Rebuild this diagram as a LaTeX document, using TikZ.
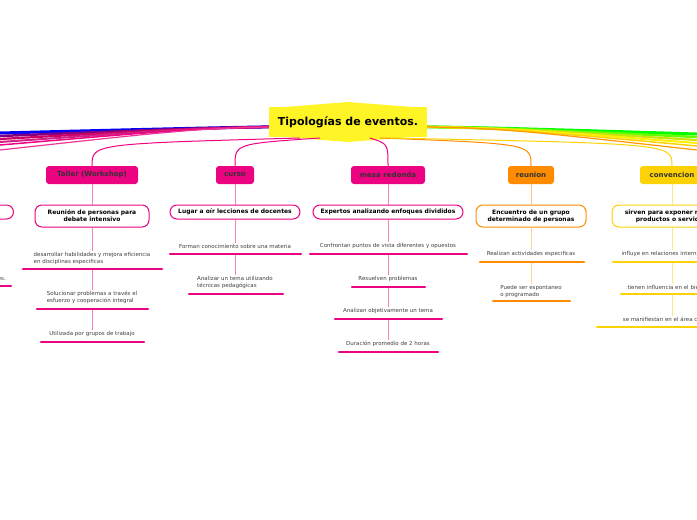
\documentclass[tikz,border=0pt]{standalone}
\usepackage{fontspec}
\setmainfont{DejaVu Sans}
\usetikzlibrary{calc}
\begin{document}
\begin{tikzpicture}[x=1pt,y=-1pt,
  every node/.style={font=\fontsize{5.5}{7}\selectfont, text=black!75},
  lone/.style={rounded corners=3pt, minimum height=18pt, inner sep=1pt, font=\fontsize{7}{8}\selectfont\bfseries, text=black!80},
  ltwo/.style={rounded corners=7pt, draw, line width=1pt, fill=white, inner sep=2pt, align=center, font=\fontsize{6}{7}\selectfont\bfseries, text=black},
  lthree/.style={align=left, inner sep=1pt},
  ul/.style={line width=2.5pt, line cap=round},
  vc/.style={line width=0.6pt}]
\useasboundingbox (0,0) rectangle (697,520);
\clip (0,0) rectangle (697,520);
\colorlet{mag}{magenta!90!red}
\colorlet{org}{orange!90!yellow}
\colorlet{yor}{yellow!70!orange}
% fan lines left
\foreach \c/\y/\w in {blue/133/3, violet/136/2.5, purple!80!magenta/139/2.2, magenta!70!violet/142/2, mag/145/1.5, mag!80!white/150/1.2}
  \draw[\c, line width=\w pt] (320,126) .. controls (200,128) .. (0,\y);
\foreach \c/\y/\w in {green/134/3, green!60!yellow/137/2.5, yellow!80!green/140/2.2, yellow/143/2, yor/146/1.5, orange!80!yellow/150/1.2}
  \draw[\c, line width=\w pt] (380,126) .. controls (500,128) .. (697,\y);
% title
\node[fill=yellow!85!white, draw=none, minimum width=158pt, minimum height=30pt, font=\fontsize{11}{12}\selectfont\bfseries, text=black] (t) at (348,122) {Tipologías de eventos.};
\fill[yellow!85!white] (272,108) -- (348,102) -- (425,108) -- cycle;
\fill[yellow!85!white] (272,136) -- (348,142) -- (425,136) -- cycle;
% level 1
\node[lone, fill=mag, minimum width=92pt] (a) at (92,175) {Taller (Workshop)};
\node[lone, fill=mag, minimum width=38pt] (b) at (235,175) {curso};
\node[lone, fill=mag, minimum width=74pt] (c) at (388,175) {mesa redonda};
\node[lone, fill=org, minimum width=46pt] (d) at (531,175) {reunion};
\node[lone, fill=yor, minimum width=64pt] (e) at (672,175) {convencion};
\foreach \n/\c/\sx in {a/mag/300, b/mag/320, c/mag/370, d/org/380, e/yor/390}
  \draw[\c, line width=1pt] (\sx,138) .. controls ($(\n.north)+(0,-22)$) .. (\n.north);
% level 2
\node[ltwo, draw=mag, minimum width=114pt, minimum height=22pt] (a2) at (92,216) {Reunión de personas para\\debate intensivo};
\node[ltwo, draw=mag, minimum width=130pt, minimum height=14pt] (b2) at (235,212) {Lugar a oír lecciones de docentes};
\node[ltwo, draw=mag, minimum width=150pt, minimum height=14pt] (c2) at (388,212) {Expertos analizando enfoques divididos};
\node[ltwo, draw=org, minimum width=110pt, minimum height=22pt] (d2) at (531,216) {Encuentro de un grupo\\determinado de personas};
\node[ltwo, draw=yor, minimum width=120pt, minimum height=22pt] (e2) at (672,216) {sirven para exponer nuevos\\productos o servicios};
\node[ltwo, draw=mag, minimum width=80pt, minimum height=14pt, anchor=east] (f2) at (14,212) {integral};
\foreach \n/\c in {a/mag, b/mag, c/mag, d/org, e/yor}
  \draw[\c!50, vc] (\n) -- (\n2);
% level 3 taller
\node[lthree] (a3) at (92,258) {desarrollar habilidades y mejora eficiencia\\en disciplinas especificas};
\draw[mag, ul] (23,269) -- (162,269);
\node[lthree] (a4) at (92,297) {Solucionar problemas a través el\\esfuerzo y cooperación integral};
\draw[mag, ul] (37,309) -- (148,309);
\node[lthree] (a5) at (92,334) {Utilizada por grupos de trabajo};
\draw[mag, ul] (41,342) -- (144,342);
\draw[mag!50, vc] (a2) -- (a3) (92,270) -- (a4) (92,310) -- (a5);
% curso
\node[lthree] (b3) at (235,246) {Forman conocimiento sobre una materia};
\draw[mag, ul] (170,254) -- (301,254);
\node[lthree] (b4) at (235,282) {Analizar un tema utilizando\\técnicas pedagógicas};
\draw[mag, ul] (189,294) -- (283,294);
\draw[mag!50, vc] (b2) -- (b3) (235,255) -- (b4);
% mesa
\node[lthree] (c3) at (388,246) {Confrontan puntos de vista diferentes y opuestos};
\draw[mag, ul] (310,254) -- (467,254);
\node[lthree] (c4) at (388,279) {Resuelven problemas};
\draw[mag, ul] (352,287) -- (425,287);
\node[lthree] (c5) at (388,311) {Analizan objetivamente un tema};
\draw[mag, ul] (335,319) -- (442,319);
\node[lthree] (c6) at (388,344) {Duración promedio de 2 horas};
\draw[mag, ul] (339,352) -- (438,352);
\draw[mag!50, vc] (c2) -- (c3) (388,255) -- (c4) (388,288) -- (c5) (388,320) -- (c6);
% reunion
\node[lthree] (d3) at (531,254) {Realizan actividades especificas};
\draw[org, ul] (480,262) -- (584,262);
\node[lthree] (d4) at (531,291) {Puede ser espontaneo\\o programado};
\draw[org, ul] (493,301) -- (570,301);
\draw[org!40, vc] (d2) -- (d3) (531,263) -- (d4);
% convencion
\node[lthree] (e3) at (672,254) {influye en relaciones internacionales};
\draw[yor, ul] (613,262) -- (740,262);
\node[lthree] (e4) at (672,287) {tienen influencia en el bienestar};
\draw[yor, ul] (621,294) -- (740,294);
\node[lthree] (e5) at (672,319) {se manifiestan en el área comercial};
\draw[yor, ul] (597,327) -- (750,327);
\draw[yor!50, vc] (e2) -- (e3) (672,263) -- (e4) (672,295) -- (e5);
% left partial
\node[lthree, anchor=east] (f3) at (7,279) {organizaciones.};
\draw[mag, ul] (-40,286) -- (11,286);
\end{tikzpicture}
\end{document}
